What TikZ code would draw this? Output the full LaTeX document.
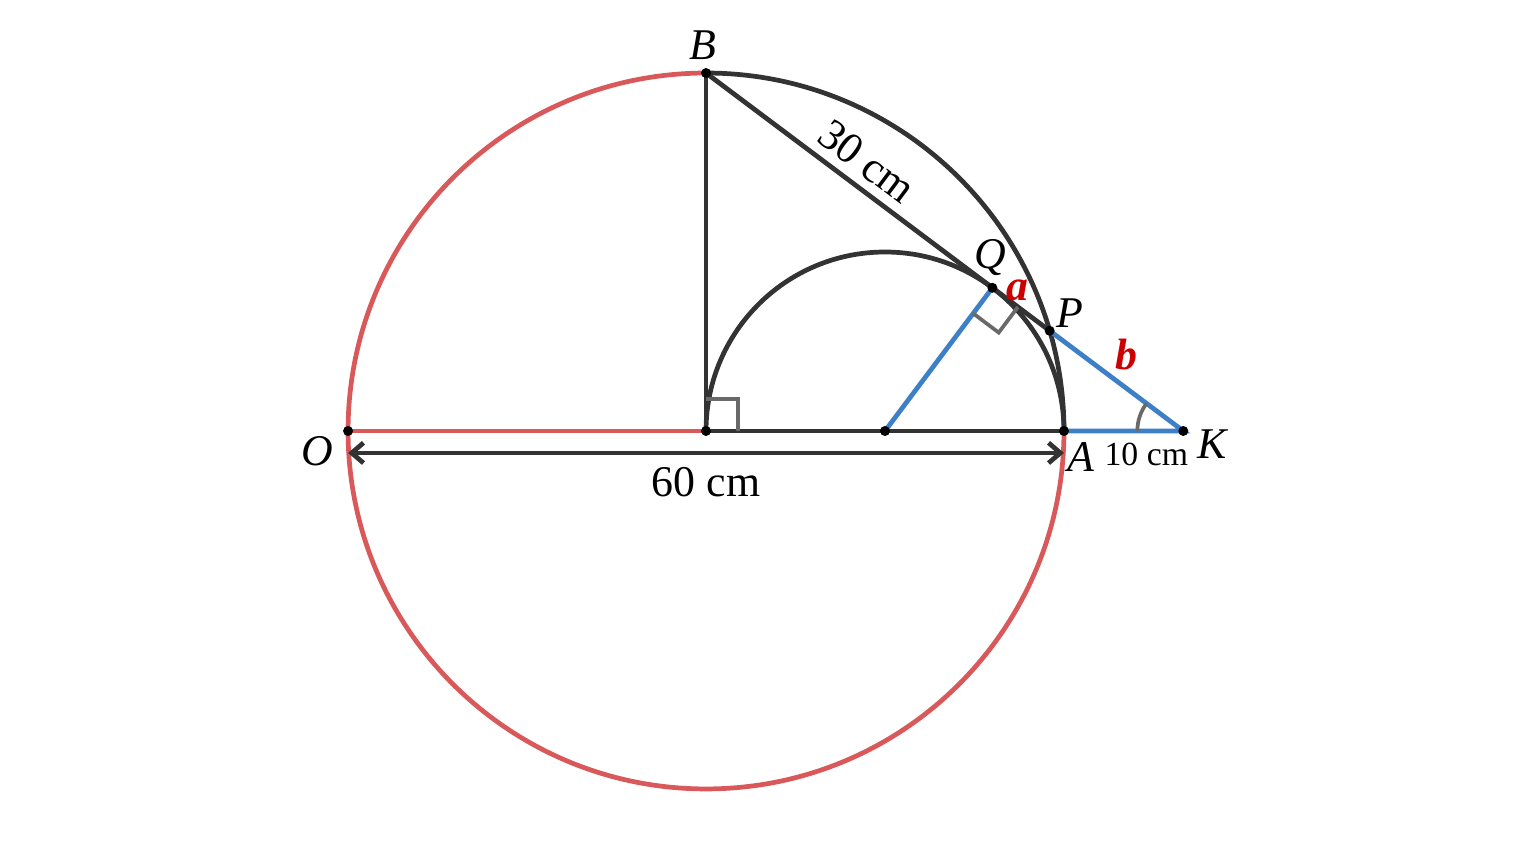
\documentclass[tikz,border=0pt]{standalone}
\usepackage{fontspec}
\setmainfont{Liberation Serif}
\usetikzlibrary{calc,arrows.meta}
\definecolor{circred}{RGB}{217,88,90}
\definecolor{segblue}{RGB}{62,128,200}
\definecolor{darkline}{RGB}{51,51,51}
\definecolor{markgray}{RGB}{105,105,105}

\begin{document}
\begin{tikzpicture}[x=0.12431cm,y=0.12431cm,line width=1.4pt,
        lbl/.style={font=\fontsize{13}{15}\selectfont\itshape},
        len/.style={font=\fontsize{13}{15}\selectfont},
        redlbl/.style={font=\fontsize{13}{15}\selectfont\bfseries\itshape,text=red!80!black}]
                \useasboundingbox (-59.17,-36.29) rectangle (69.56,36.12);
                \coordinate (C) at (0,0);
                \coordinate (O) at (-30,0);
                \coordinate (A) at (30,0);
                \coordinate (M) at (15,0);
                \coordinate (K) at (40,0);
                \coordinate (B) at (0,30);
                \coordinate (Q) at (24,12);
                \coordinate (P) at (28.8,8.4);
                % big circle and its upper right quarter
                \draw[circred] (A) arc[start angle=0,end angle=-270,radius=30];
                \draw[darkline] (A) arc[start angle=0,end angle=90,radius=30];
                \draw[circred] (O) -- (C);
                \draw[darkline] (C) -- (A);
                \draw[darkline] (C) -- (B);
                \draw[darkline] (C) arc[start angle=180,end angle=0,radius=15];
                \draw[darkline] (B) -- (P);
                \draw[segblue] (M) -- (Q);
                \draw[segblue] (P) -- (K) -- (A);
                % marks
                \draw[markgray,line width=1.1pt] ($(C)+(0,2.68)$) -- ++(2.68,0) -- ++(0,-2.68);
                \draw[markgray,line width=1.1pt] (22.39,9.856) -- (24.53,8.248) -- (26.14,10.39);
                \draw[markgray,line width=1.1pt] ($(K)+(-3.85,0)$) arc[start angle=180,end angle=143.13,radius=3.85];
                % measure O to A
                \draw[darkline,{Straight Barb[length=3.5pt,width=6pt]}-{Straight Barb[length=3.5pt,width=6pt]}]
                        ($(O)+(0,-1.84)$) -- ($(A)+(0,-1.84)$);
                \node[len] at (0,-4.3) {60 cm};
                \node[len,rotate=-36.87] at (13.5,22.6) {30 cm};
                \node[font=\fontsize{10}{12}\selectfont] at (36.9,-2.0) {10 cm};
                % points
                \foreach \p in {O,C,M,A,K,B,Q,P}
                        \fill (\p) circle[radius=0.42];
                \node[lbl] at (-0.25,32.35) {B};
                \node[lbl] at (-32.6,-1.68) {O};
                \node[lbl] at (31.4,-2.2) {A};
                \node[lbl] at (42.4,-1.1) {K};
                \node[lbl] at (23.8,14.5) {Q};
                \node[lbl] at (30.5,9.9) {P};
                \node[redlbl] at (26.07,11.8) {a};
                \node[redlbl] at (35.2,6.4) {b};
\end{tikzpicture}
\end{document}
